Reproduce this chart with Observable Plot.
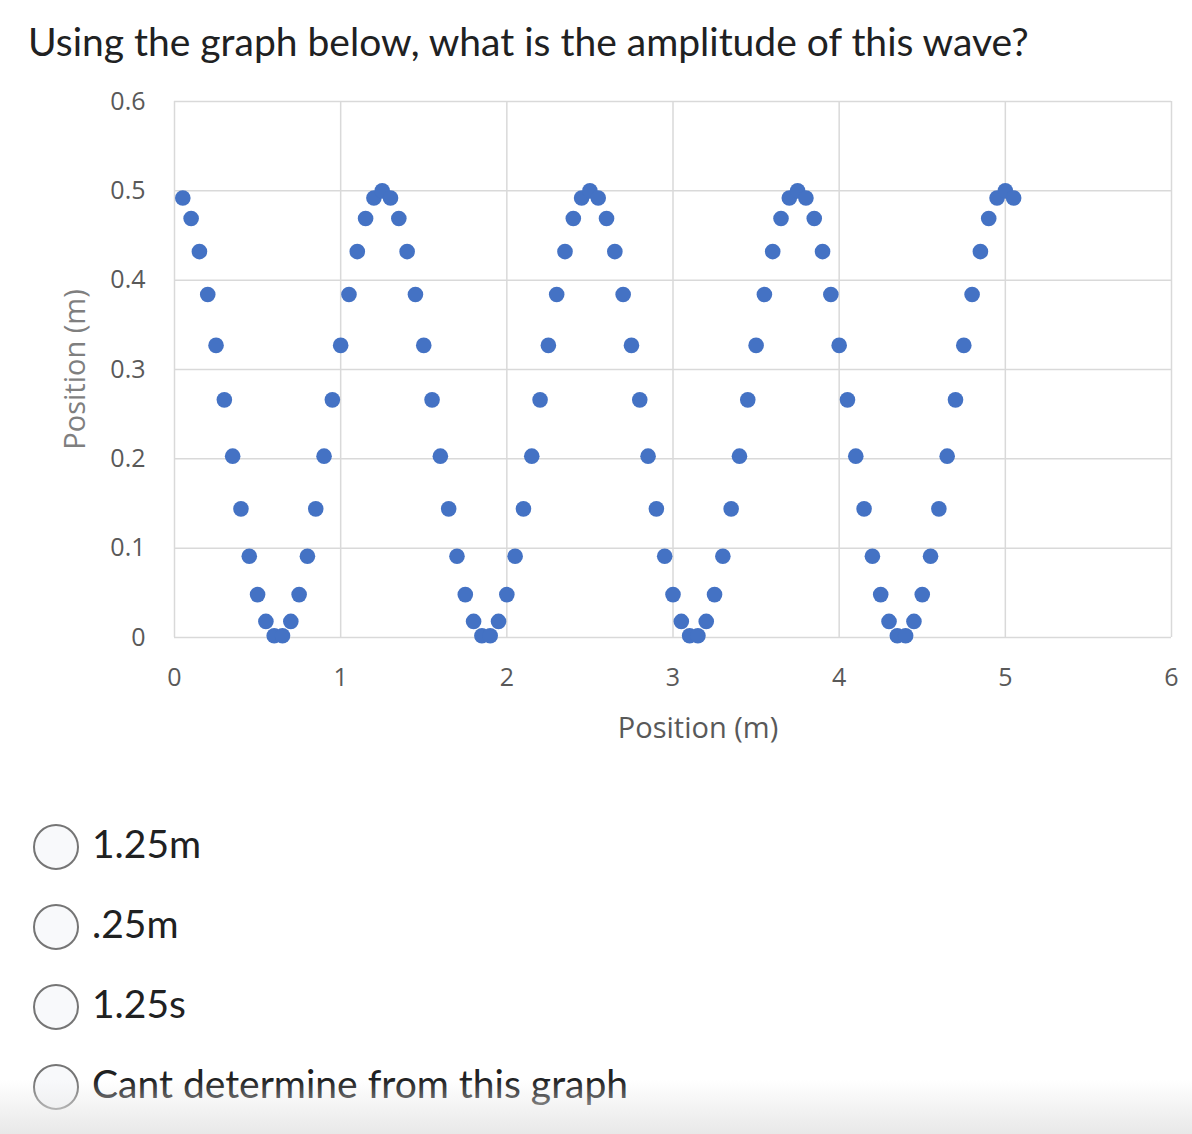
<!DOCTYPE html>
<html>
<head>
<meta charset="utf-8">
<script src="https://cdn.jsdelivr.net/npm/d3@7"></script>
<script src="https://cdn.jsdelivr.net/npm/@observablehq/plot@0.6"></script>
<style>
  html, body { margin: 0; padding: 0; background: #ffffff; }
  body { position: relative; width: 1192px; height: 1134px; overflow: hidden; font-family: Lato, "Open Sans", sans-serif; }
  #title { position: absolute; left: 28px; top: 22px; font-size: 39px; line-height: 39px; color: #202122; white-space: nowrap; }
  #chart { position: absolute; left: 0; top: 80px; }
  .opt { position: absolute; left: 0; width: 1192px; height: 46px; }
  .opt .radio { position: absolute; left: 33px; top: 0; width: 46px; height: 46px; box-sizing: border-box; border: 2px solid #757575; border-radius: 50%; background: #f8f9fb; }
  .opt .lbl { position: absolute; left: 92px; top: 0px; font-size: 39px; line-height: 39px; color: #202122; white-space: nowrap; }
  #shade { position: absolute; left: 0; top: 1080px; width: 1192px; height: 54px; background: linear-gradient(to bottom, rgba(235,235,235,0), rgba(232,232,232,1)); }
</style>
</head>
<body>
<div id="title"></div>
<div id="chart"></div>
<div id="options"></div>
<div id="shade"></div>
<script>
// ---- data ----
const titleText = "Using the graph below, what is the amplitude of this wave?";
const xLabel = "Position (m)";
const yLabel = "Position (m)";
const xTicks = [0, 1, 2, 3, 4, 5, 6];
const yTicks = [0, 0.1, 0.2, 0.3, 0.4, 0.5, 0.6];
const answerChoices = ["1.25m", ".25m", "1.25s", "Cant determine from this graph"];

const positionX = [
  0.05, 0.10, 0.15, 0.20, 0.25, 0.30, 0.35, 0.40, 0.45, 0.50,
  0.55, 0.60, 0.65, 0.70, 0.75, 0.80, 0.85, 0.90, 0.95, 1.00,
  1.05, 1.10, 1.15, 1.20, 1.25, 1.30, 1.35, 1.40, 1.45, 1.50,
  1.55, 1.60, 1.65, 1.70, 1.75, 1.80, 1.85, 1.90, 1.95, 2.00,
  2.05, 2.10, 2.15, 2.20, 2.25, 2.30, 2.35, 2.40, 2.45, 2.50,
  2.55, 2.60, 2.65, 2.70, 2.75, 2.80, 2.85, 2.90, 2.95, 3.00,
  3.05, 3.10, 3.15, 3.20, 3.25, 3.30, 3.35, 3.40, 3.45, 3.50,
  3.55, 3.60, 3.65, 3.70, 3.75, 3.80, 3.85, 3.90, 3.95, 4.00,
  4.05, 4.10, 4.15, 4.20, 4.25, 4.30, 4.35, 4.40, 4.45, 4.50,
  4.55, 4.60, 4.65, 4.70, 4.75, 4.80, 4.85, 4.90, 4.95, 5.00,
  5.05
];
const positionY = [
  0.492, 0.469, 0.432, 0.384, 0.327, 0.266, 0.203, 0.144, 0.091, 0.048,
  0.018, 0.002, 0.002, 0.018, 0.048, 0.091, 0.144, 0.203, 0.266, 0.327,
  0.384, 0.432, 0.469, 0.492, 0.500, 0.492, 0.469, 0.432, 0.384, 0.327,
  0.266, 0.203, 0.144, 0.091, 0.048, 0.018, 0.002, 0.002, 0.018, 0.048,
  0.091, 0.144, 0.203, 0.266, 0.327, 0.384, 0.432, 0.469, 0.492, 0.500,
  0.492, 0.469, 0.432, 0.384, 0.327, 0.266, 0.203, 0.144, 0.091, 0.048,
  0.018, 0.002, 0.002, 0.018, 0.048, 0.091, 0.144, 0.203, 0.266, 0.327,
  0.384, 0.432, 0.469, 0.492, 0.500, 0.492, 0.469, 0.432, 0.384, 0.327,
  0.266, 0.203, 0.144, 0.091, 0.048, 0.018, 0.002, 0.002, 0.018, 0.048,
  0.091, 0.144, 0.203, 0.266, 0.327, 0.384, 0.432, 0.469, 0.492, 0.500,
  0.492
];

// ---- build ----
document.getElementById("title").textContent = titleText;

const points = positionX.map((x, i) => ({x, y: positionY[i]}));

const chart = Plot.plot({
  width: 1192,
  height: 680,
  marginTop: 21,
  marginBottom: 123,
  marginLeft: 174,
  marginRight: 21,
  style: {fontFamily: "'Open Sans', sans-serif", fontSize: "25px", color: "#595959", background: "transparent", overflow: "visible"},
  x: {domain: [0, 6], ticks: xTicks, label: null},
  y: {domain: [0, 0.6], ticks: yTicks, label: null},
  marks: [
    Plot.gridX(xTicks, {stroke: "#d9d9d9", strokeOpacity: 1, strokeWidth: 1.5}),
    Plot.gridY(yTicks, {stroke: "#d9d9d9", strokeOpacity: 1, strokeWidth: 1.5}),
    Plot.axisX(xTicks, {tickSize: 0, tickPadding: 31, fill: "#595959", fontSize: 25, tickFormat: d3.format("d")}),
    Plot.axisY(yTicks, {tickSize: 0, tickPadding: 29, fill: "#595959", fontSize: 25, tickFormat: d => d === 0 ? "0" : d3.format(".1f")(d)}),
    Plot.dot(points, {x: "x", y: "y", r: 7.8, fill: "#4472C4", stroke: "none"}),
    Plot.text([xLabel], {frameAnchor: "bottom", dy: 100, dx: 25, fontSize: 29, fill: "#595959", text: d => d}),
    Plot.text([yLabel], {frameAnchor: "left", dx: -99, rotate: -90, textAnchor: "middle", fontSize: 29, fill: "#7f7f7f", text: d => d})
  ]
});
document.getElementById("chart").appendChild(chart);

const optBox = document.getElementById("options");
answerChoices.forEach((t, i) => {
  const row = document.createElement("div");
  row.className = "opt";
  row.style.top = (824 + i * 80) + "px";
  const r = document.createElement("div");
  r.className = "radio";
  const l = document.createElement("div");
  l.className = "lbl";
  l.textContent = t;
  row.appendChild(r);
  row.appendChild(l);
  optBox.appendChild(row);
});
</script>
</body>
</html>
